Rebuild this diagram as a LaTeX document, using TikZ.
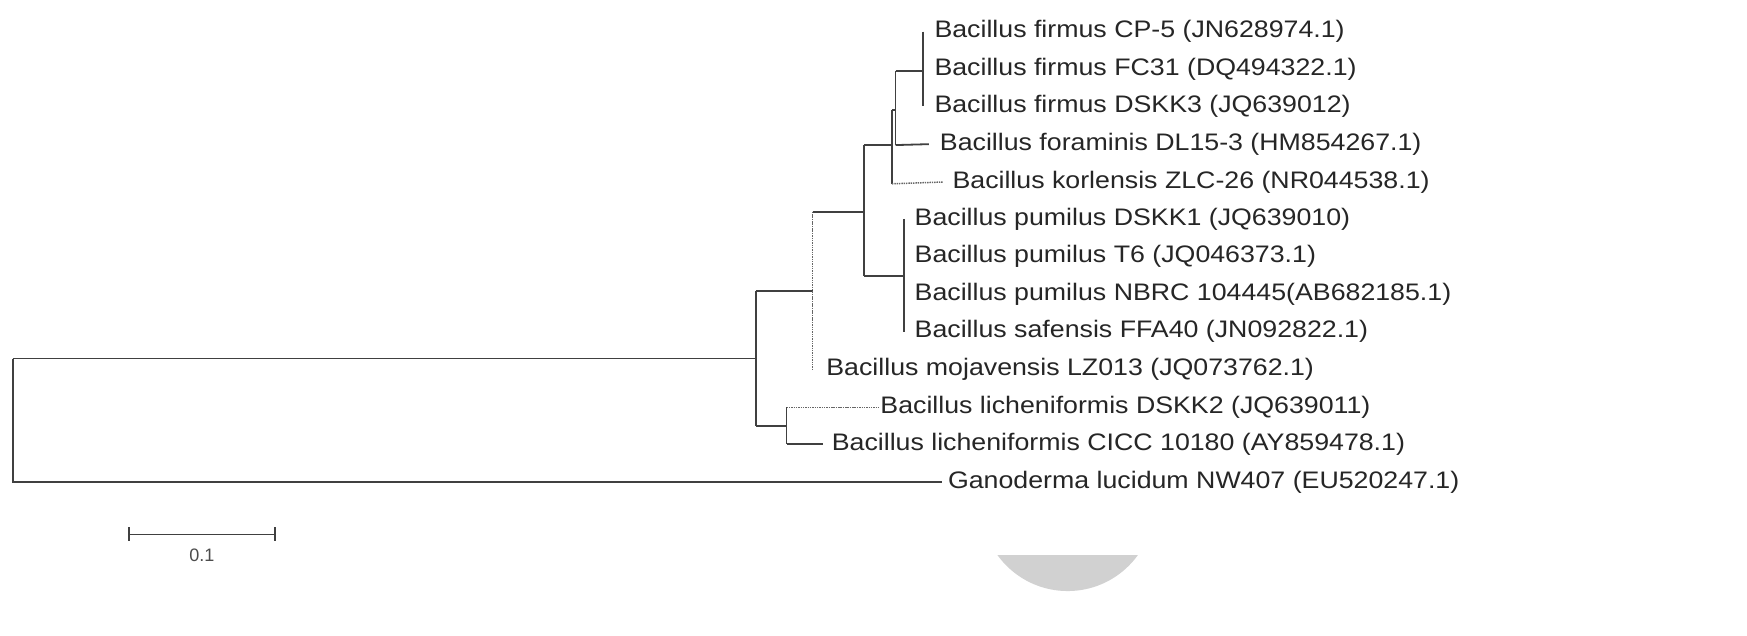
\documentclass[tikz,border=0pt]{standalone}
\usepackage{fontspec}
\setmainfont{Liberation Sans}
\begin{document}
\begin{tikzpicture}[x=1pt,y=-1pt,
  br/.style={draw=black!75,line width=2pt},
  dt/.style={draw=black!60,line width=1.6pt,densely dotted},
  lf/.style={anchor=west,inner sep=0pt,text=black!85,font=\fontsize{26.5}{26.5}\selectfont,xscale=1.12}]
\useasboundingbox (0,0) rectangle (1939,705);
\fill[white] (0,0) rectangle (1939,705);
% leaves
\node[lf] (l1) at (1037,35) {Bacillus firmus CP-5 (JN628974.1)};
\node[lf] (l2) at (1037,77) {Bacillus firmus FC31 (DQ494322.1)};
\node[lf] (l3) at (1037,118) {Bacillus firmus DSKK3 (JQ639012)};
\node[lf] (l4) at (1043,160) {Bacillus foraminis DL15-3 (HM854267.1)};
\node[lf] (l5) at (1057,202) {Bacillus korlensis ZLC-26 (NR044538.1)};
\node[lf] (l6) at (1015,243) {Bacillus pumilus DSKK1 (JQ639010)};
\node[lf] (l7) at (1015,285) {Bacillus pumilus T6 (JQ046373.1)};
\node[lf] (l8) at (1015,327) {Bacillus pumilus NBRC 104445(AB682185.1)};
\node[lf] (l9) at (1015,368) {Bacillus safensis FFA40 (JN092822.1)};
\node[lf] (l10) at (917,410) {Bacillus mojavensis LZ013 (JQ073762.1)};
\node[lf] (l11) at (977,452) {Bacillus licheniformis DSKK2 (JQ639011)};
\node[lf] (l12) at (923,493) {Bacillus licheniformis CICC 10180 (AY859478.1)};
\node[lf] (l13) at (1052,535) {Ganoderma lucidum NW407 (EU520247.1)};
% internal nodes
\coordinate (r) at (14,398);
\coordinate (a) at (839,398);
\coordinate (b) at (902,323);
\coordinate (c) at (873,473);
\coordinate (d) at (959,235);
\coordinate (e) at (990,161);
\coordinate (g) at (994,122);
\coordinate (f) at (1024,79);
\coordinate (h) at (1003,306);
% root
\draw[br] (14,398) -- (14,535) -- ([xshift=-6pt]l13.west);
\draw[br] (r) -- (a);
\draw[br] (839,323) -- (839,473);
\draw[br] (839,473) -- (c);
\draw[br] (873,452) -- (873,493);
\draw[dt] (873,452) -- (l11.west);
\draw[br] (873,493) -- ([xshift=-10pt]l12.west);
\draw[br] (839,323) -- (b);
\draw[dt] (902,235) -- (902,410);
\draw[br] (902,235) -- (d);
\draw[br] (959,161) -- (959,306);
\draw[br] (959,306) -- (h);
\draw[br] (1003,243) -- (1003,368);
\draw[br] (959,161) -- (e);
\draw[br] (990,122) -- (990,204);
\draw[dt] (990,204) -- ([xshift=-10pt]l5.west);
\draw[br] (990,122) -- (g);
\draw[br] (994,79) -- (994,161);
\draw[br] (994,161) -- ([xshift=-12pt]l4.west);
\draw[br] (994,79) -- (f);
\draw[br] (1024,35) -- (1024,118);
% scale bar
\draw[br,line width=1.6pt] (143,585) -- (143,601) (143,593) -- (305,593) (305,585) -- (305,601);
\node[font=\fontsize{20}{20}\selectfont,text=black!70] (sc) at (224,616) {0.1};
% grey watermark segment
\begin{scope}
\clip (1000,616) rectangle (1400,705);
\fill[black!18] (1185,560) circle[radius=96];
\end{scope}
\end{tikzpicture}
\end{document}
